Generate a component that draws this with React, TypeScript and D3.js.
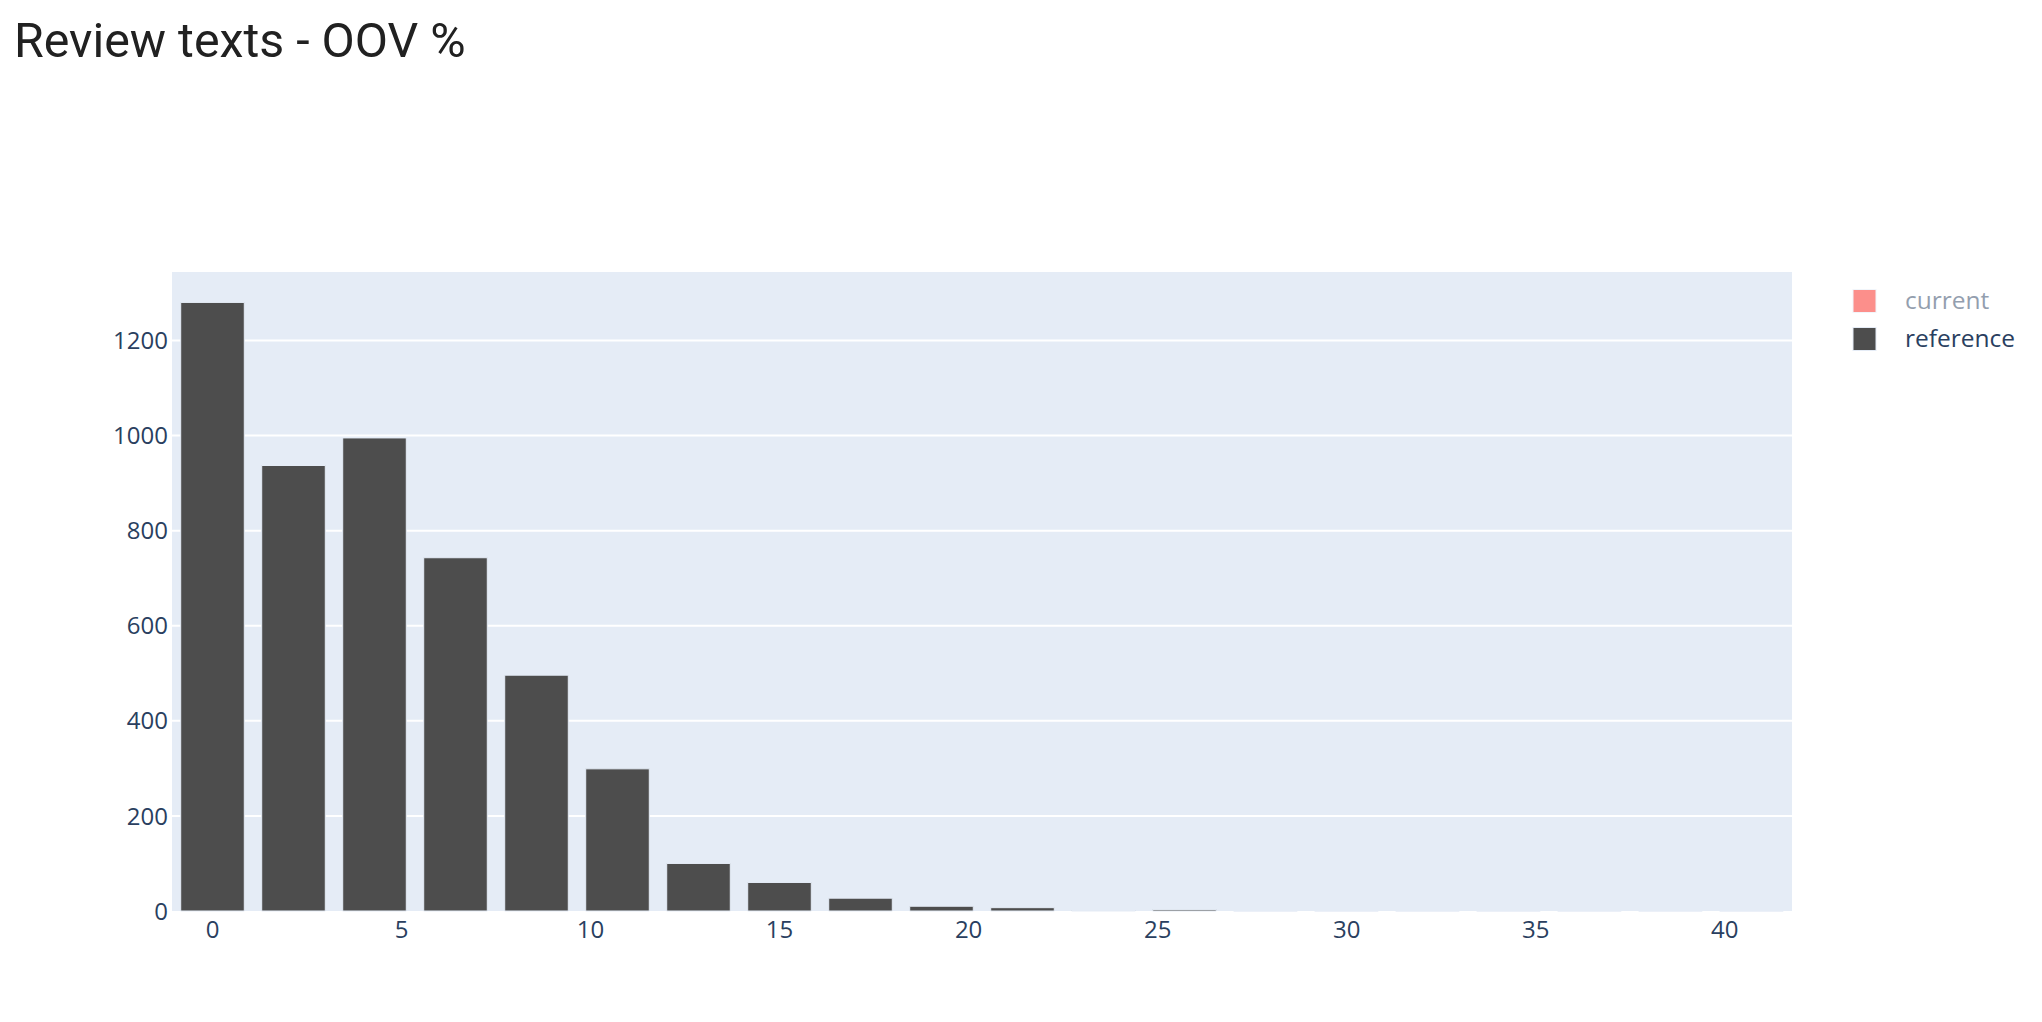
import React from "react";
import * as d3 from "d3";

const binWidth = 2.1425;
const referenceCounts = [1280, 937, 995, 743, 496, 299, 100, 60, 27, 10, 7, 1, 3, 0, 0, 0, 0, 0, 0, 0];
const xTicks = [0, 5, 10, 15, 20, 25, 30, 35, 40];
const yTicks = [0, 200, 400, 600, 800, 1000, 1200];
const legendItems = [
  { name: "current", color: "#fa2219", hidden: true },
  { name: "reference", color: "#4d4d4d", hidden: false },
];
const titleText = "Review texts - OOV %";

const W = 2042;
const H = 1022;
const plot = { left: 172, right: 1792, top: 272, bottom: 911 };
const tickFont = '"Open Sans", verdana, arial, sans-serif';
const tickColor = "#2a3f5f";

export default function App() {
  const n = referenceCounts.length;
  const x = d3
    .scaleLinear()
    .domain([-binWidth / 2, binWidth * (n - 0.5)])
    .range([plot.left, plot.right]);
  const yMax = (d3.max(referenceCounts) as number) * 1.05;
  const y = d3.scaleLinear().domain([0, yMax]).range([plot.bottom, plot.top]);
  const barW = 0.785 * (x(binWidth) - x(0));

  return (
    <svg
      width={W}
      height={H}
      style={{ position: "absolute", left: 0, top: 0, background: "#fff" }}
    >
      <text
        x={14}
        y={57}
        fontFamily="Roboto, Inter, sans-serif"
        fontSize={48.3}
        fill="#212121"
      >
        {titleText}
      </text>
      <rect
        x={plot.left}
        y={plot.top}
        width={plot.right - plot.left}
        height={plot.bottom - plot.top}
        fill="#E5ECF6"
      />
      {yTicks
        .filter((t) => t > 0)
        .map((t) => (
          <line
            key={"g" + t}
            x1={plot.left}
            x2={plot.right}
            y1={y(t)}
            y2={y(t)}
            stroke="#fff"
            strokeWidth={2}
          />
        ))}
      {referenceCounts.map((v, i) => {
        const cx = x(i * binWidth);
        const x0 = cx - barW / 2;
        const y0 = y(0);
        const y1 = y(v);
        const p = d3.path();
        p.moveTo(x0, y0);
        p.lineTo(x0 + barW, y0);
        p.lineTo(x0 + barW, y1);
        p.lineTo(x0, y1);
        p.closePath();
        return (
          <path
            key={"b" + i}
            d={p.toString()}
            fill="#4d4d4d"
            stroke="#E5ECF6"
            strokeWidth={1}
          />
        );
      })}
      {yTicks.map((t) => (
        <text
          key={"yt" + t}
          x={plot.left - 4}
          y={y(t)}
          dy="0.36em"
          textAnchor="end"
          fontFamily={tickFont}
          fontSize={24}
          fill={tickColor}
        >
          {t}
        </text>
      ))}
      {xTicks.map((t) => (
        <text
          key={"xt" + t}
          x={x(t)}
          y={938}
          textAnchor="middle"
          fontFamily={tickFont}
          fontSize={24}
          fill={tickColor}
        >
          {t}
        </text>
      ))}
      {legendItems.map((it, i) => {
        const cy = 301 + i * 38;
        return (
          <g key={it.name} opacity={it.hidden ? 0.5 : 1}>
            <rect
              x={1853}
              y={cy - 11.5}
              width={23}
              height={23}
              fill={it.color}
              stroke="#E5ECF6"
              strokeWidth={1}
            />
            <text
              x={1905}
              y={cy}
              dy="0.33em"
              fontFamily={tickFont}
              fontSize={24.5}
              fill={tickColor}
            >
              {it.name}
            </text>
          </g>
        );
      })}
    </svg>
  );
}
